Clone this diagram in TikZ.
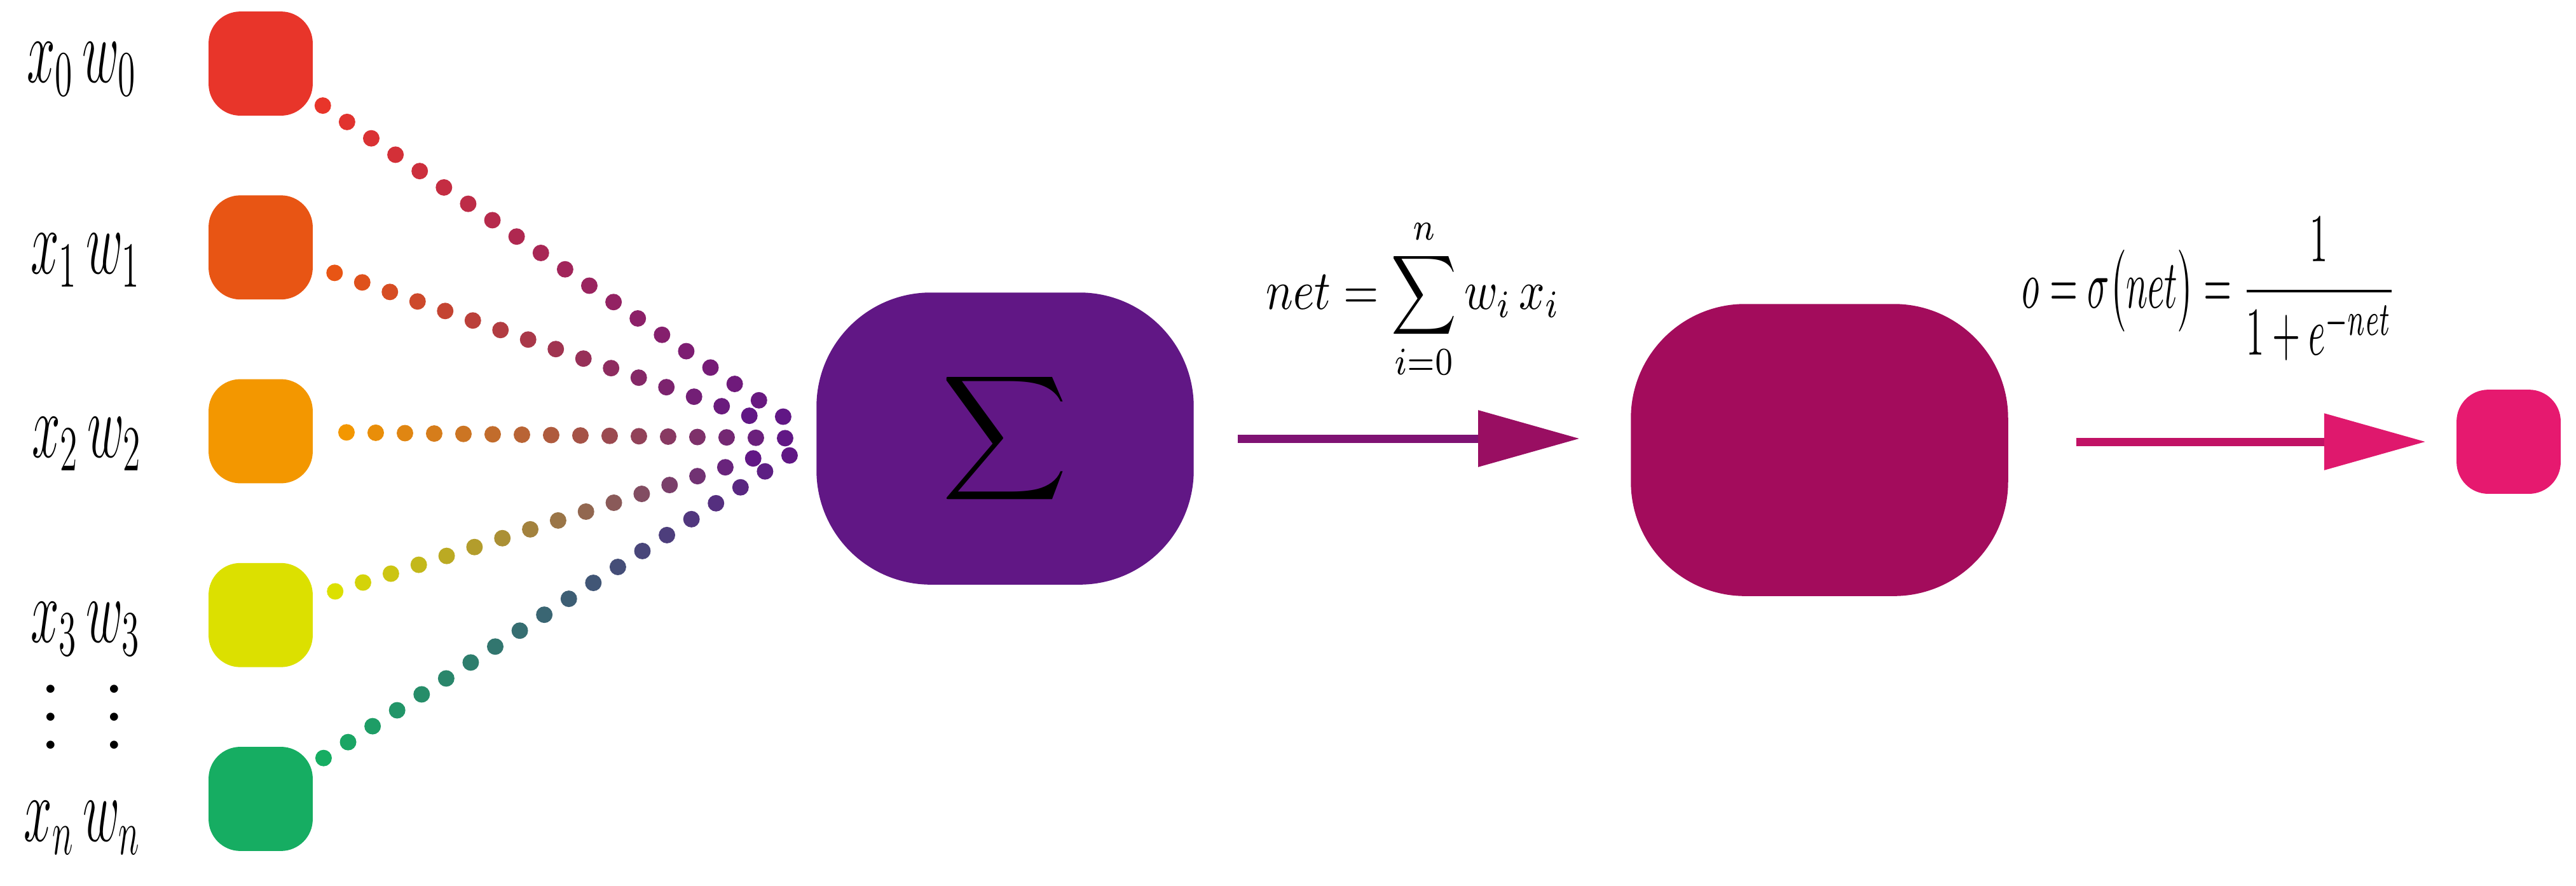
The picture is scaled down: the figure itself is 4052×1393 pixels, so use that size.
\documentclass[tikz,border=0pt]{standalone}
\usepackage{amsmath}
\usepackage{graphicx}
\usetikzlibrary{arrows.meta,calc}

\definecolor{colx0}{HTML}{E8352A}
\definecolor{colx1}{HTML}{E85514}
\definecolor{colx2}{HTML}{F39700}
\definecolor{colx3}{HTML}{DCE000}
\definecolor{colx4}{HTML}{16AD62}
\definecolor{colsum}{HTML}{611785}
\definecolor{colact}{HTML}{A30C5C}
\definecolor{colout}{HTML}{E6196F}

\newcommand{\narrow}[1]{\scalebox{0.55}[1]{#1}}
\newcommand{\colondots}{\vbox{\baselineskip=6.3pt\lineskiplimit=-20pt\hbox{.}\hbox{.}\hbox{.}}}

\begin{document}
\begin{tikzpicture}[x=0.005cm,y=-0.005cm,node distance=1.4475cm,
    inbox/.style={rectangle,rounded corners=0.25cm,minimum size=0.82cm,inner sep=0pt},
    mainbox/.style={rectangle,rounded corners=0.9cm,minimum width=2.97cm,minimum height=2.3cm,inner sep=0pt},
    lbl/.style={anchor=base east,inner sep=0pt,font=\fontsize{22}{26}\selectfont},
    flow/.style={line width=0.065cm,-{Triangle[length=0.8cm,width=0.43cm,color=#1]}}]
    \useasboundingbox (0,0) rectangle (4052,1393);

    %% inputs
    \node[inbox,fill=colx0] (x0) at (410,100) {};
    \node[inbox,fill=colx1,below of=x0] (x1) {};
    \node[inbox,fill=colx2,below of=x1] (x2) {};
    \node[inbox,fill=colx3,below of=x2] (x3) {};
    \node[inbox,fill=colx4,below of=x3] (x4) {};

    \node[lbl] (l0) at (216,129) {\narrow{$x_0\,w_0$}};
    \node[lbl] (l1) at (222,430) {\narrow{$x_1\,w_1$}};
    \node[lbl] (l2) at (224,719) {\narrow{$x_2\,w_2$}};
    \node[lbl] (l3) at (222,1010) {\narrow{$x_3\,w_3$}};
    \node[lbl] (ln) at (222,1323) {\narrow{$x_n\,w_n$}};
    \node[inner sep=0pt,font=\fontsize{22}{26}\selectfont] (d1) at (80,1128) {\colondots};
    \node[inner sep=0pt,font=\fontsize{22}{26}\selectfont] (d2) at (180,1128) {\colondots};

    %% neurons
    \node[mainbox,fill=colsum] (sum) at (1581,690) {\resizebox*{!}{1.1cm}{$\displaystyle\sum$}};
    \node[mainbox,fill=colact] (act) at (2862,708) {};
    \node[inbox,fill=colout] (out) at (3946,695) {};

    %% weighted inputs
    \foreach \src/\first/\last in {x0/118/19,x1/123/15,x2/135/15,x3/123/15,x4/118/19}
      \foreach \k in {0,...,\last} {
        \pgfmathsetmacro\mix{100*\k/\last}
        \pgfmathsetmacro\dist{(\first+46*\k)*0.005}
        \fill[fill=colsum!\mix!col\src] ($(\src)!\dist cm!(sum.west)$) circle[radius=0.065cm];
      }

    %% net and output
    \draw[flow=colact!85!colsum,draw=colsum!55!colact,shorten <=0.34cm,shorten >=0.395cm] (sum.east) -- (sum.east -| act.west);
    \draw[flow=colout!90!colact,draw=colact!55!colout,shorten <=0.53cm,shorten >=0.235cm] (out.west -| act.east) -- (out.west);

    \node (net) at (2223,470) {\resizebox*{2.315cm}{1.28cm}{$\displaystyle net=\sum_{i=0}^{n} w_i\,x_i$}};
    \node (sig) at (3475,455) {\resizebox*{2.945cm}{1.125cm}{$o=\sigma\bigl(net\bigr)=\dfrac{1}{1+e^{-net}}$}};
\end{tikzpicture}
\end{document}
